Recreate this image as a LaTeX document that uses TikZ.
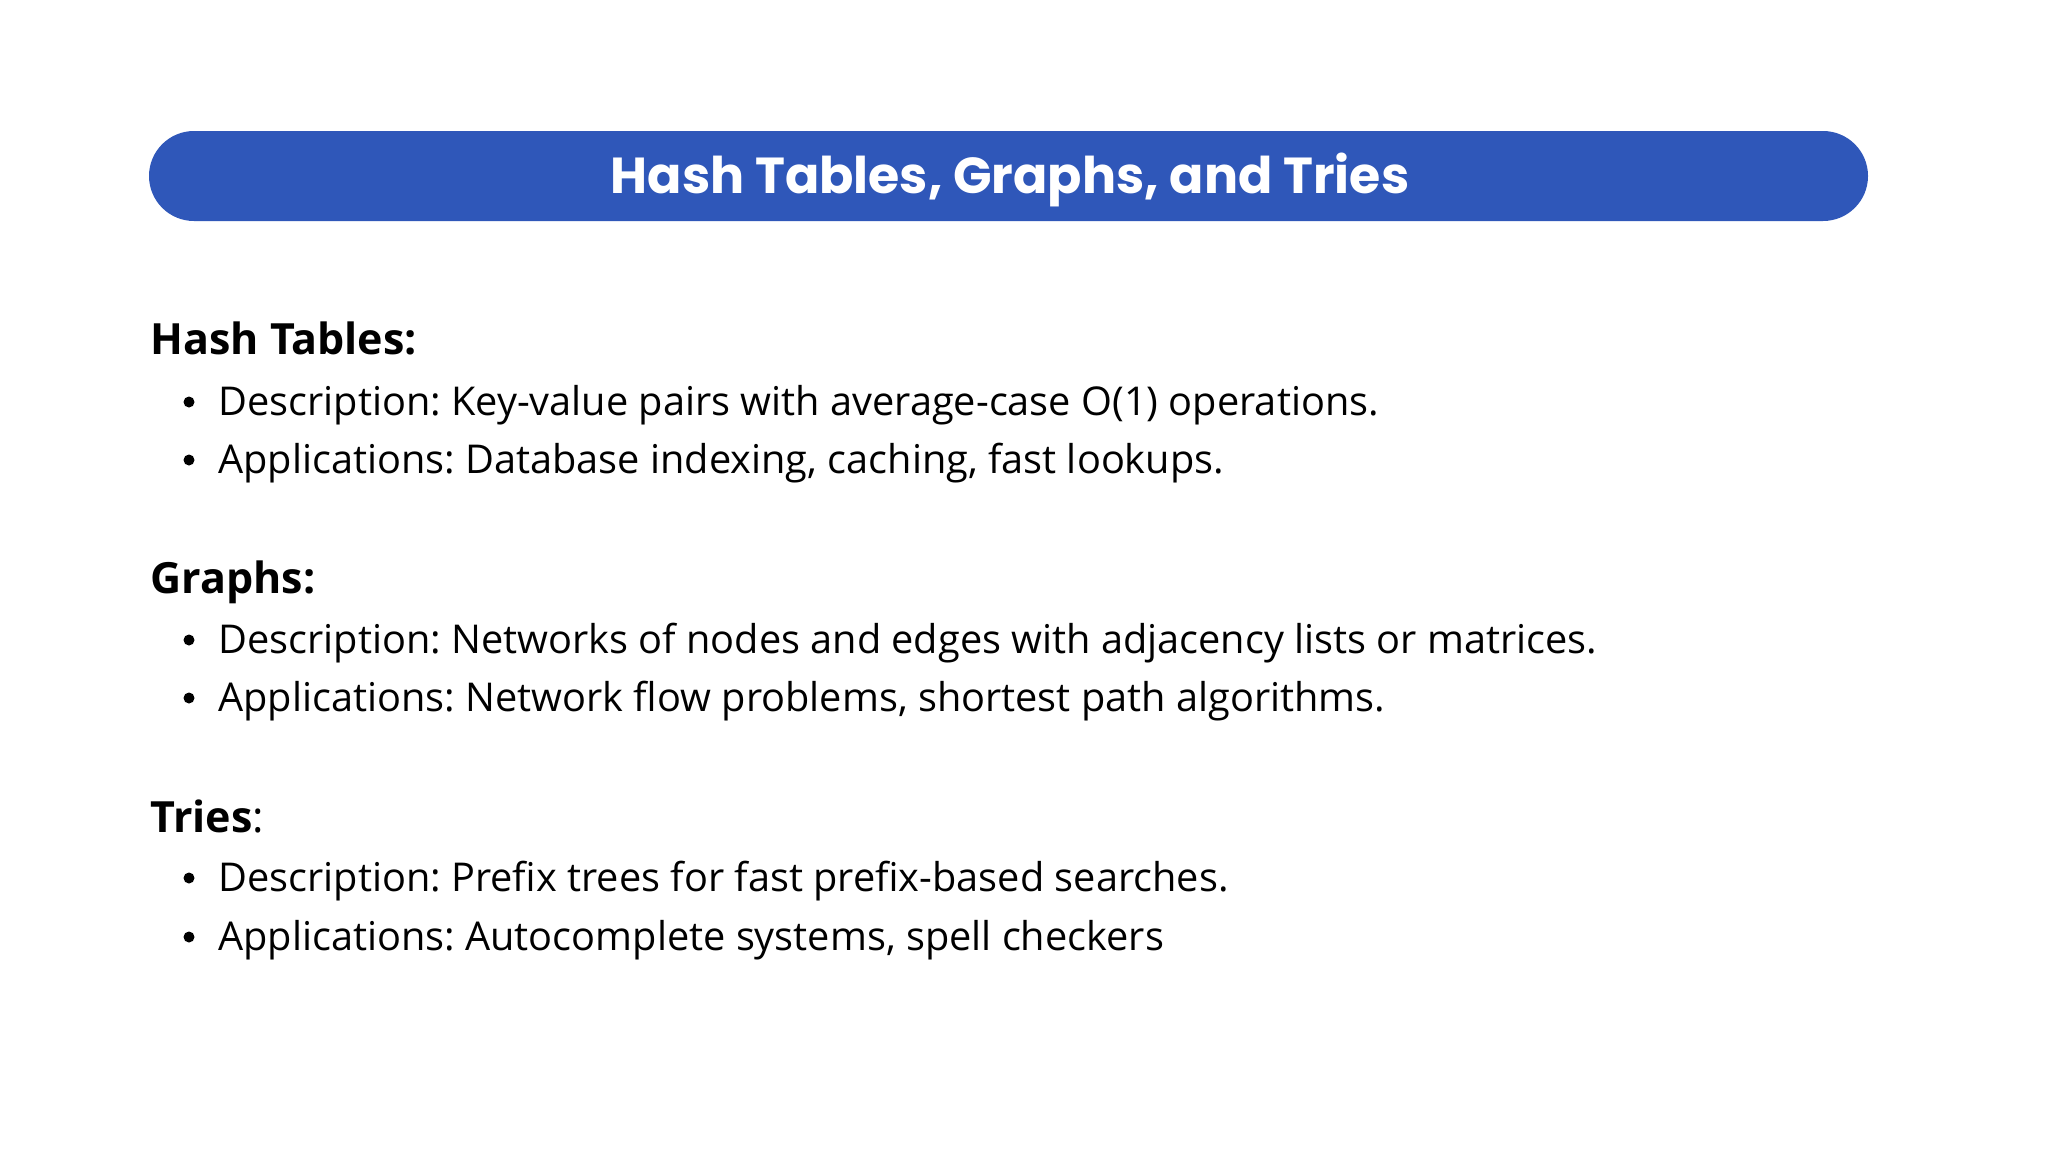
\documentclass[tikz,border=0pt]{standalone}
\usepackage{fontspec}
\setmainfont{Open Sans}
\newfontfamily\titlefont{Poppins}
\usepackage{tikz}
\frenchspacing

\definecolor{bannerblue}{RGB}{47,87,185}

\begin{document}
\begin{tikzpicture}[x=0.5pt, y=-0.5pt,
  heading/.style={anchor=base west, inner sep=0pt, font=\fontsize{21.5}{26}\selectfont\bfseries},
  item/.style={anchor=base west, inner sep=0pt, font=\fontsize{19.85}{24}\selectfont},
  dot/.style={shape=circle, fill=black, inner sep=0pt, minimum size=5.5pt}]

\fill[white] (0,0) rectangle (2048,1152);
\useasboundingbox (0,0) rectangle (2048,1152);

% title banner
\node[fill=bannerblue, rounded corners=45*0.5pt, minimum width=1719*0.5pt, minimum height=90*0.5pt, inner sep=0pt] (banner) at (1008.5,176) {};
\node[anchor=base, inner sep=0pt, text=white, font=\fontsize{25.3}{30}\titlefont\bfseries] (title) at (1010,193) {Hash Tables, Graphs, and Tries};

% hash tables
\node[heading] (hash) at (150,354) {Hash Tables:};
\node[dot] (b1) at (189,402) {};
\node[item] (hashdesc) at (218,415) {Description: Key-value pairs with average-case O(1) operations.};
\node[dot] (b2) at (189,460) {};
\node[item] (hashapp) at (218,473) {Applications: Database indexing, caching, fast lookups.};

% graphs
\node[heading] (graphs) at (150,593) {Graphs:};
\node[dot] (b3) at (189,640) {};
\node[item] (graphsdesc) at (218,653) {Description: Networks of nodes and edges with adjacency lists or matrices.};
\node[dot] (b4) at (189,698) {};
\node[item] (graphsapp) at (218,711) {Applications: Network flow problems, shortest path algorithms.};

% tries
\node[heading] (tries) at (150,832) {Tries\textmd{:}};
\node[dot] (b5) at (189,878) {};
\node[item] (triesdesc) at (218,891) {Description: Prefix trees for fast prefix-based searches.};
\node[dot] (b6) at (189,937) {};
\node[item] (triesapp) at (218,950) {Applications: Autocomplete systems, spell checkers};
\end{tikzpicture}
\end{document}
